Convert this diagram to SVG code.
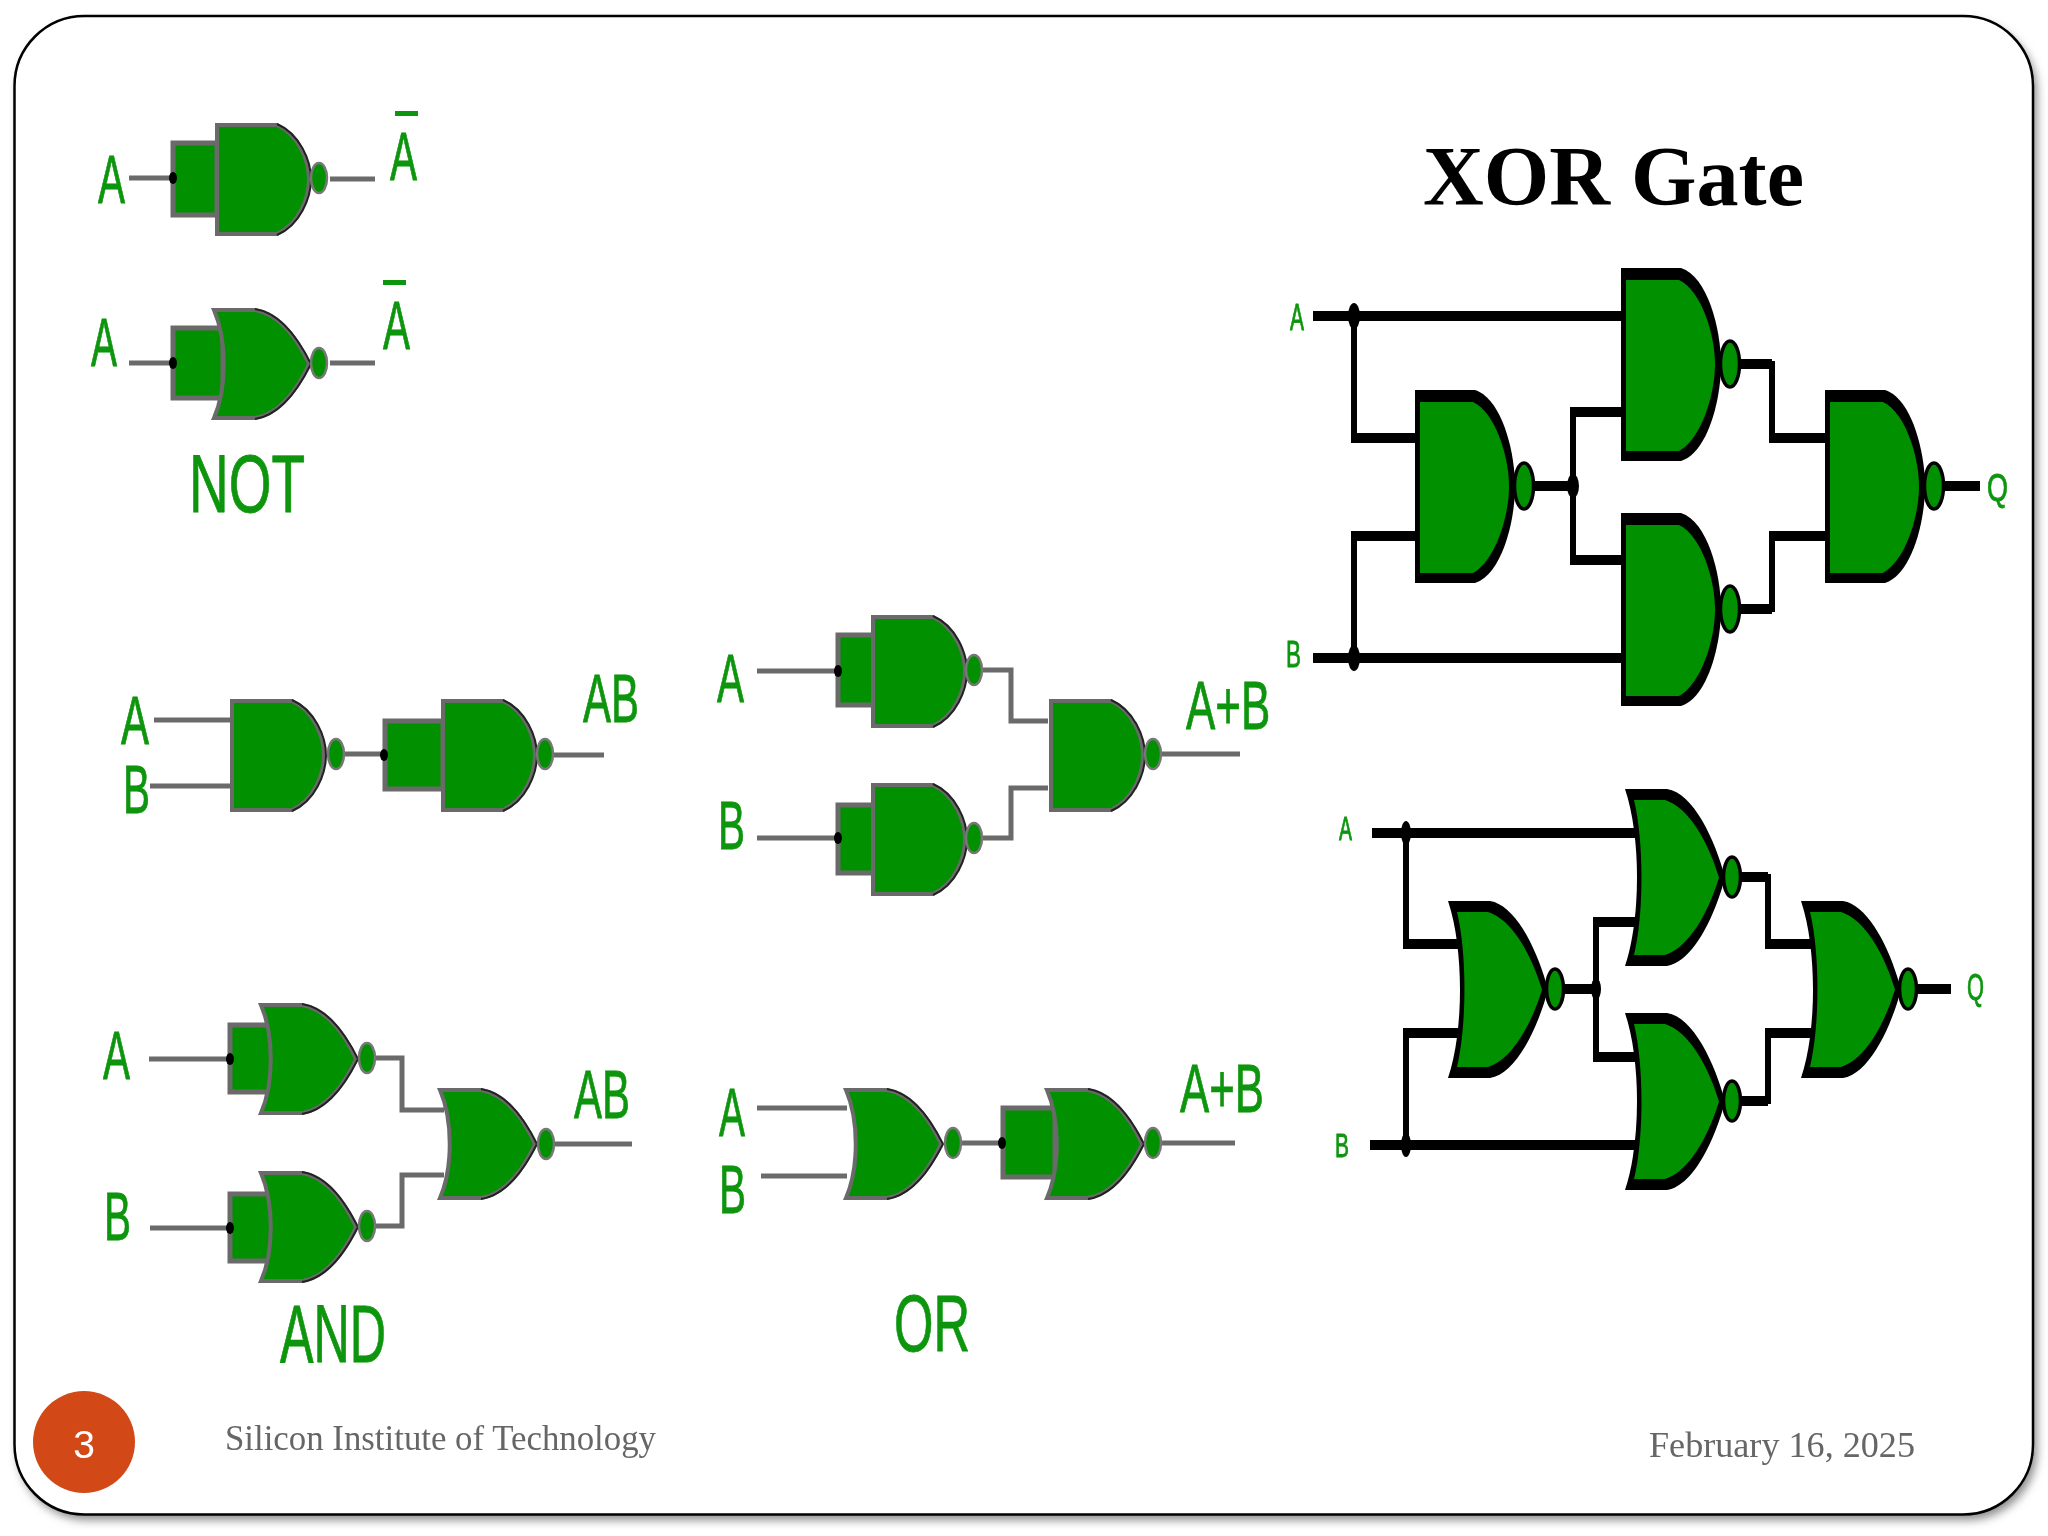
<svg xmlns="http://www.w3.org/2000/svg" width="2048" height="1536" viewBox="0 0 2048 1536">
<style>
.lbl{font-family:"Liberation Sans",Arial,sans-serif;fill:#0a950a;stroke:#0a950a;stroke-width:.8}
.foot{font-family:"Liberation Serif","Times New Roman",serif;fill:#666;font-size:36px}
.gw{fill:none;stroke:#6a6a6a;stroke-width:5}
.kw{fill:none;stroke:#000;stroke-width:10}
.kt{fill:none;stroke:#000;stroke-width:6}
.g{fill:#009000}
.buf{fill:#009000;stroke:#6a6a6a;stroke-width:5}
.sb{fill:#009000;stroke:#777;stroke-width:2.500}
.kb{fill:#009000;stroke:#000;stroke-width:3.500}
.bar{fill:#0a950a}
</style>
<defs>
<filter id="sh" x="-5%" y="-5%" width="110%" height="110%"><feGaussianBlur stdDeviation="5"/></filter>
<filter id="soft" x="0" y="0" width="100%" height="100%" filterUnits="userSpaceOnUse" primitiveUnits="userSpaceOnUse"><feGaussianBlur stdDeviation="0.700"/></filter>
<g id="sNand"><path class="g" stroke="#6a6a6a" stroke-width="4" d="M2 2H62C84 12 94 38 94 56.500C94 75 84 101 62 111H2Z"/><path fill="none" stroke="#222" stroke-width="2" d="M62 1C85 11 96 38 96 56.500C96 75 85 102 62 112"/></g>
<g id="sNor"><path class="g" stroke="#6a6a6a" stroke-width="4" d="M1 2H42C68 6 86 34 96 56C86 78 68 106 42 110H1C14 80 14 32 1 2Z"/><path fill="none" stroke="#222" stroke-width="2" d="M42 1C69 5 87 34 98 56C87 78 69 107 42 111"/></g>
<g id="kNand"><path fill="#000" d="M0 0H60C86 8 100 60 100 96.500C100 133 86 185 60 193H0Z"/><path class="g" d="M5 12H58C80 22 94 66 94 96.500C94 127 80 171 58 183H5Z"/></g>
<g id="kNor"><path fill="#000" d="M0 0H42C68 4 90 50 100 88.500C90 127 68 173 42 177H0C16 130 16 47 0 0Z"/><path class="g" d="M9 11H40C64 18 84 55 94 88.500C84 122 64 159 40 166H9C19 125 19 52 9 11Z"/></g>
</defs>

<g id="slide">
<rect x="18" y="22" width="2019" height="1498" rx="70" fill="#8a8a8a" filter="url(#sh)"/>
<rect x="14.500" y="16" width="2018.500" height="1498.500" rx="70" fill="#fff" stroke="#000" stroke-width="2.500"/>
</g>

<g id="picture" filter="url(#soft)">
<g id="connectors">
<path class="gw" d="M129 178H173M330 179H375"/>
<path class="gw" d="M129 363H173M330 363H375"/>
<path class="gw" d="M154 720H230M150 786H230M345 754H385M554 755H604"/>
<path class="gw" d="M149 1059H230M150 1228H230M374 1058H402V1110H444M374 1226H402V1175H444M555 1144H632"/>
<path class="gw" d="M757 671H838M757 838H838M983 670H1011V721H1048M983 838H1011V788H1048M1162 754H1240"/>
<path class="gw" d="M757 1108H847M761 1176H847M962 1143H1002M1162 1143H1235"/>
<path class="kw" d="M1313 316H1621M1313 658H1621M1351 438H1415M1351 536H1415M1535 486H1573M1570 412H1621M1570 560H1621M1741 364H1772M1741 609H1772M1769 438H1825M1769 536H1825M1945 486H1980"/>
<path class="kt" d="M1354 316V441M1354 533V658M1573 409V563M1772 361V441M1772 533V612"/>
<path class="kw" d="M1372 833H1638M1370 1145H1638M1403 944H1460M1403 1033H1460M1565 989H1596M1593 922H1638M1593 1057H1638M1742 877H1768M1742 1101H1768M1765 944H1812M1765 1033H1812M1918 989H1951"/>
<path class="kt" d="M1406 833V947M1406 1030V1145M1596 919V1060M1768 874V947M1768 1030V1104"/>
</g>

<g id="not-nand"><rect class="buf" x="173" y="143" width="44" height="72"/><use href="#sNand" x="215" y="123"/><ellipse class="sb" cx="319" cy="178" rx="8" ry="15"/><ellipse cx="173" cy="178" rx="4" ry="6"/></g>
<g id="not-nor"><rect class="buf" x="173" y="328" width="50" height="70"/><use href="#sNor" x="213" y="308"/><ellipse class="sb" cx="319" cy="363" rx="8" ry="15"/><ellipse cx="173" cy="363" rx="4" ry="6"/></g>

<g id="and-nand-1"><use href="#sNand" x="230" y="699"/><ellipse class="sb" cx="336" cy="754" rx="8" ry="15"/></g>
<g id="and-nand-2"><rect class="buf" x="385" y="721" width="58" height="68"/><use href="#sNand" x="441" y="699"/><ellipse class="sb" cx="545" cy="754" rx="8" ry="15"/><ellipse cx="384" cy="755" rx="4" ry="6"/></g>

<g id="and-nor-1"><rect class="buf" x="230" y="1025" width="42" height="67"/><use href="#sNor" x="260" y="1003"/><ellipse class="sb" cx="367" cy="1058" rx="8" ry="15"/><ellipse cx="230" cy="1059" rx="4" ry="6"/></g>
<g id="and-nor-2"><rect class="buf" x="230" y="1194" width="42" height="67"/><use href="#sNor" x="260" y="1171"/><ellipse class="sb" cx="367" cy="1226" rx="8" ry="15"/><ellipse cx="230" cy="1228" rx="4" ry="6"/></g>
<g id="and-nor-3"><use href="#sNor" x="439" y="1088"/><ellipse class="sb" cx="546" cy="1144" rx="8" ry="15"/></g>

<g id="or-nand-1"><rect class="buf" x="838" y="635" width="36" height="70"/><use href="#sNand" x="871" y="615"/><ellipse class="sb" cx="974" cy="670" rx="8" ry="15"/><ellipse cx="838" cy="671" rx="4" ry="6"/></g>
<g id="or-nand-2"><rect class="buf" x="838" y="805" width="36" height="68"/><use href="#sNand" x="871" y="783"/><ellipse class="sb" cx="974" cy="838" rx="8" ry="15"/><ellipse cx="838" cy="838" rx="4" ry="6"/></g>
<g id="or-nand-3"><use href="#sNand" x="1049" y="699"/><ellipse class="sb" cx="1153" cy="754" rx="8" ry="15"/></g>

<g id="or-nor-1"><use href="#sNor" x="845" y="1088"/><ellipse class="sb" cx="953" cy="1143" rx="8" ry="15"/></g>
<g id="or-nor-2"><rect class="buf" x="1003" y="1108" width="52" height="69"/><use href="#sNor" x="1046" y="1088"/><ellipse class="sb" cx="1153" cy="1143" rx="8" ry="15"/><ellipse cx="1002" cy="1143" rx="4" ry="6"/></g>

<g id="xor-nand-1"><use href="#kNand" x="1415" y="390"/><ellipse class="kb" cx="1524" cy="486" rx="9.500" ry="23"/></g>
<g id="xor-nand-2"><use href="#kNand" x="1621" y="268"/><ellipse class="kb" cx="1730" cy="364" rx="9.500" ry="23"/></g>
<g id="xor-nand-3"><use href="#kNand" x="1621" y="513"/><ellipse class="kb" cx="1730" cy="609" rx="9.500" ry="23"/></g>
<g id="xor-nand-4"><use href="#kNand" x="1825" y="390"/><ellipse class="kb" cx="1934" cy="486" rx="9.500" ry="23"/></g>
<g id="xor-junctions"><ellipse cx="1354" cy="316" rx="6" ry="13"/><ellipse cx="1354" cy="658" rx="6" ry="13"/><ellipse cx="1573" cy="486" rx="6" ry="12"/></g>

<g id="xor-nor-1"><use href="#kNor" x="1448" y="901"/><ellipse class="kb" cx="1555" cy="989" rx="8.500" ry="20"/></g>
<g id="xor-nor-2"><use href="#kNor" x="1625" y="789"/><ellipse class="kb" cx="1732" cy="877" rx="8.500" ry="20"/></g>
<g id="xor-nor-3"><use href="#kNor" x="1625" y="1013"/><ellipse class="kb" cx="1732" cy="1101" rx="8.500" ry="20"/></g>
<g id="xor-nor-4"><use href="#kNor" x="1801" y="901"/><ellipse class="kb" cx="1908" cy="989" rx="8.500" ry="20"/></g>
<g id="xor-nor-junctions"><ellipse cx="1406" cy="833" rx="5" ry="12"/><ellipse cx="1406" cy="1145" rx="5" ry="12"/><ellipse cx="1596" cy="989" rx="5" ry="11"/></g>

<g id="labels">
<text class="lbl" font-size="68" x="98" y="203" textLength="27" lengthAdjust="spacingAndGlyphs">A</text>
<rect class="bar" x="395" y="111" width="23" height="5"/>
<text class="lbl" font-size="68" x="390" y="180" textLength="27" lengthAdjust="spacingAndGlyphs">A</text>
<text class="lbl" font-size="68" x="91" y="366" textLength="26" lengthAdjust="spacingAndGlyphs">A</text>
<rect class="bar" x="383" y="280" width="23" height="5"/>
<text class="lbl" font-size="68" x="383" y="349" textLength="27" lengthAdjust="spacingAndGlyphs">A</text>
<text class="lbl" font-size="82" x="189" y="512" textLength="116" lengthAdjust="spacingAndGlyphs">NOT</text>
<text class="lbl" font-size="68" x="121" y="744" textLength="28" lengthAdjust="spacingAndGlyphs">A</text>
<text class="lbl" font-size="68" x="123" y="813" textLength="27" lengthAdjust="spacingAndGlyphs">B</text>
<text class="lbl" font-size="68" x="583" y="722" textLength="56" lengthAdjust="spacingAndGlyphs">AB</text>
<text class="lbl" font-size="68" x="103" y="1079" textLength="27" lengthAdjust="spacingAndGlyphs">A</text>
<text class="lbl" font-size="68" x="104" y="1240" textLength="27" lengthAdjust="spacingAndGlyphs">B</text>
<text class="lbl" font-size="68" x="574" y="1118" textLength="56" lengthAdjust="spacingAndGlyphs">AB</text>
<text class="lbl" font-size="82" x="280" y="1362" textLength="106" lengthAdjust="spacingAndGlyphs">AND</text>
<text class="lbl" font-size="68" x="717" y="702" textLength="27" lengthAdjust="spacingAndGlyphs">A</text>
<text class="lbl" font-size="68" x="718" y="849" textLength="27" lengthAdjust="spacingAndGlyphs">B</text>
<text class="lbl" font-size="68" transform="translate(1186 729) scale(0.646 1)">A+B</text>
<text class="lbl" font-size="68" x="719" y="1136" textLength="26" lengthAdjust="spacingAndGlyphs">A</text>
<text class="lbl" font-size="68" x="719" y="1213" textLength="27" lengthAdjust="spacingAndGlyphs">B</text>
<text class="lbl" font-size="68" x="1180" y="1112" textLength="84" lengthAdjust="spacingAndGlyphs">A+B</text>
<text class="lbl" font-size="80" x="894" y="1351" textLength="76" lengthAdjust="spacingAndGlyphs">OR</text>
<text class="lbl" font-size="36" x="1290" y="330" textLength="14" lengthAdjust="spacingAndGlyphs">A</text>
<text class="lbl" font-size="36" x="1286" y="667" textLength="15" lengthAdjust="spacingAndGlyphs">B</text>
<text class="lbl" font-size="38" x="1987" y="501" textLength="21" lengthAdjust="spacingAndGlyphs">Q</text>
<text class="lbl" font-size="33" x="1339" y="840" textLength="13" lengthAdjust="spacingAndGlyphs">A</text>
<text class="lbl" font-size="33" x="1335" y="1157" textLength="14" lengthAdjust="spacingAndGlyphs">B</text>
<text class="lbl" font-size="36" x="1967" y="1000" textLength="17" lengthAdjust="spacingAndGlyphs">Q</text>
</g>
</g>

<text id="title" x="1423" y="205" font-family="'Liberation Serif','Times New Roman',serif" font-weight="700" font-size="84" fill="#000" textLength="381" lengthAdjust="spacingAndGlyphs">XOR Gate</text>

<g id="footer">
<ellipse cx="84" cy="1442" rx="51" ry="51" fill="#d34817"/>
<text x="84" y="1458" text-anchor="middle" font-family="'Liberation Sans',Arial,sans-serif" font-size="39" fill="#fff">3</text>
<text class="foot" x="225" y="1450" textLength="431" lengthAdjust="spacingAndGlyphs">Silicon Institute of Technology</text>
<text class="foot" x="1649" y="1457" textLength="266" lengthAdjust="spacingAndGlyphs">February 16, 2025</text>
</g>
</svg>
